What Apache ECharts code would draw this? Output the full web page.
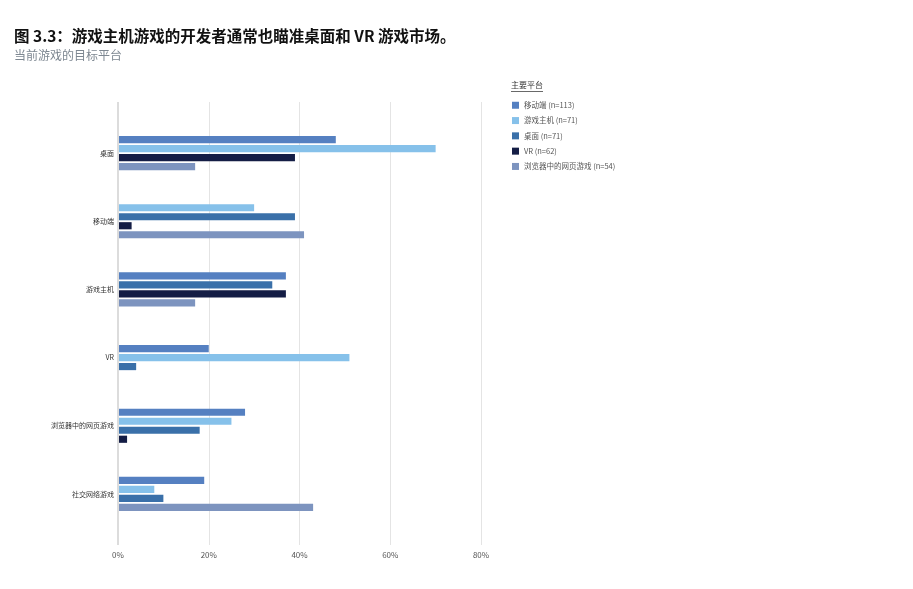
<!DOCTYPE html>
<html>
<head>
<meta charset="utf-8">
<script src="https://cdn.jsdelivr.net/npm/echarts@6/dist/echarts.min.js"></script>
<style>
  html, body { margin: 0; padding: 0; background: #fff; }
  #main { width: 913px; height: 589px; }
</style>
</head>
<body>
<div id="main"></div>
<script>
var FONT = '"Noto Sans CJK SC", "Noto Sans", sans-serif';

// categories, top to bottom
var categories = ["桌面", "移动端", "游戏主机", "VR", "浏览器中的网页游戏", "社交网络游戏"];

// platform series (null = no bar)
var seriesNames = ["移动端 (n=113)", "游戏主机 (n=71)", "桌面 (n=71)", "VR (n=62)", "浏览器中的网页游戏 (n=54)"];
var mobileVals  = [48, null, 37, 20, 28, 19];
var consoleVals = [70, 30, null, 51, 25, 8];
var desktopVals = [null, 39, 34, 4, 18, 10];
var vrVals      = [39, 3, 37, null, 2, null];
var browserVals = [17, 41, 17, null, null, 43];
var seriesColors = ["#5580c1", "#86c1ea", "#3a70a9", "#141d45", "#7d94bf"];

var xTicks = [0, 20, 40, 60, 80];

var allVals = [mobileVals, consoleVals, desktopVals, vrVals, browserVals];

// for every category: which series have a bar, so the group can be centred
var present = categories.map(function (c, i) {
  var list = [];
  allVals.forEach(function (arr, s) {
    if (arr[i] != null) list.push(s);
  });
  return list;
});

function makeRender(sIdx) {
  return function (params, api) {
    var cat = api.value(1);
    var val = api.value(0);
    var list = present[cat];
    var k = list.indexOf(sIdx);
    var n = list.length;
    var band = api.size([0, 1])[1];
    var step = band * 0.132;
    var h = band * 0.105;
    var start = api.coord([0, cat]);
    var end = api.coord([val, cat]);
    var y = start[1] + (k - (n - 1) / 2) * step - h / 2;
    return {
      type: "rect",
      shape: { x: start[0], y: y, width: end[0] - start[0], height: h },
      style: { fill: seriesColors[sIdx] }
    };
  };
}

var series = seriesNames.map(function (name, s) {
  var data = [];
  allVals[s].forEach(function (v, i) {
    if (v != null) data.push([v, i]);
  });
  return {
    name: name,
    type: "custom",
    xAxisIndex: 1,
    yAxisIndex: 1,
    itemStyle: { color: seriesColors[s] },
    renderItem: makeRender(s),
    encode: { x: 0, y: 1 },
    data: data
  };
});

var myChart = echarts.init(document.getElementById("main"));
var option = {
  backgroundColor: "#fff",
  textStyle: { fontFamily: FONT },
  title: [
    {
      text: "图 3.3：游戏主机游戏的开发者通常也瞄准桌面和 VR 游戏市场。",
      left: 14,
      top: 28,
      padding: 0,
      textStyle: { fontSize: 15.5, fontWeight: "bold", color: "#111", fontFamily: FONT }
    },
    {
      text: "当前游戏的目标平台",
      left: 14,
      top: 49,
      padding: 0,
      textStyle: { fontSize: 12, fontWeight: "normal", color: "#7d8791", fontFamily: FONT }
    }
  ],
  legend: {
    orient: "vertical",
    left: 512,
    top: 101.5,
    padding: 0,
    icon: "rect",
    itemWidth: 7,
    itemHeight: 7,
    itemGap: 7.8,
    itemTextGap: 6,
    selectedMode: false,
    textStyle: { fontSize: 7.5, color: "#555", fontFamily: FONT },
    data: seriesNames
  },
  graphic: [
    {
      type: "text",
      left: 511,
      top: 81,
      style: { text: "主要平台", fontSize: 8, fill: "#333", fontFamily: FONT }
    },
    {
      type: "rect",
      left: 511,
      top: 91,
      shape: { width: 32, height: 0.8 },
      style: { fill: "#444" }
    }
  ],
  grid: [
    { left: 118, right: 432, top: 102, bottom: 44 },
    { left: 118, right: 432, top: 119, bottom: 61 }
  ],
  xAxis: [
    {
      gridIndex: 0,
      type: "value",
      min: 0,
      max: 80,
      interval: 20,
      axisLine: { show: false },
      axisTick: { show: false },
      axisLabel: {
        fontSize: 8,
        color: "#555",
        margin: 6,
        fontFamily: FONT,
        formatter: function (v) { return xTicks.indexOf(v) >= 0 ? v + "%" : ""; }
      },
      splitLine: { lineStyle: { color: "#e4e4e4", width: 1 } }
    },
    {
      gridIndex: 1,
      type: "value",
      min: 0,
      max: 80,
      show: false
    }
  ],
  yAxis: [
    {
      gridIndex: 0,
      type: "value",
      show: false
    },
    {
      gridIndex: 1,
      type: "category",
      inverse: true,
      data: categories,
      axisLine: { show: false },
      axisTick: { show: false },
      splitLine: { show: false },
      axisLabel: { fontSize: 7, color: "#333", margin: 4, fontFamily: FONT }
    }
  ],
  series: series.concat([
    {
      type: "line",
      xAxisIndex: 0,
      yAxisIndex: 0,
      silent: true,
      data: [],
      markLine: {
        symbol: "none",
        silent: true,
        label: { show: false },
        lineStyle: { color: "#dcdcdc", width: 2, type: "solid" },
        data: [{ xAxis: 0 }]
      }
    }
  ])
};
myChart.setOption(option);
</script>
</body>
</html>
